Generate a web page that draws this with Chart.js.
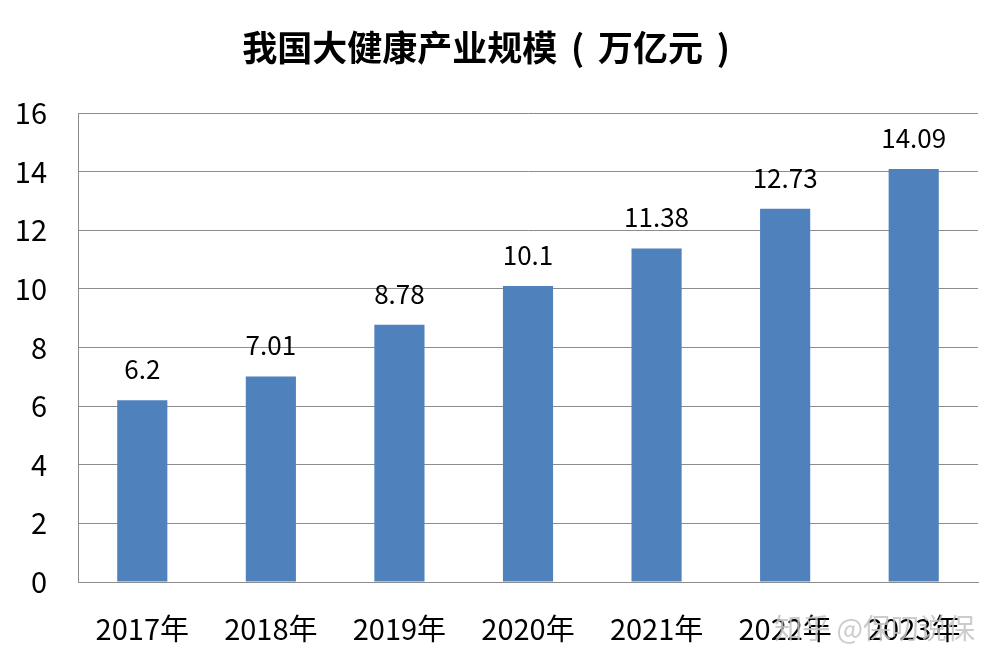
<!DOCTYPE html>
<html>
<head>
<meta charset="utf-8">
<script src="https://cdn.jsdelivr.net/npm/chart.js@4"></script>
<style>
  html, body { margin: 0; padding: 0; background: #fff; }
  #wrap { width: 1000px; height: 667px; }
</style>
</head>
<body>
<div id="wrap"><canvas id="c" width="1000" height="667"></canvas></div>
<script>
const years = ["2017年", "2018年", "2019年", "2020年", "2021年", "2022年", "2023年"];
const scale = [6.2, 7.01, 8.78, 10.1, 11.38, 12.73, 14.09];
const scaleText = ["6.2", "7.01", "8.78", "10.1", "11.38", "12.73", "14.09"];

const font = "'Noto Sans CJK SC', 'Noto Sans', sans-serif";
const blue = "#4F81BD";
const grid = "#8C8C8C";

// value labels above each bar
const barLabels = {
  id: "barLabels",
  afterDatasetsDraw(chart) {
    const c = chart.ctx;
    const meta = chart.getDatasetMeta(0);
    c.save();
    c.font = "26px " + font;
    c.fillStyle = "#000";
    c.textAlign = "center";
    c.textBaseline = "bottom";
    meta.data.forEach((bar, i) => {
      c.fillText(scaleText[i], bar.x, bar.y - 18);
    });
    c.restore();
  },
};

// watermark bottom right
const watermark = {
  id: "watermark",
  afterDraw(chart) {
    const c = chart.ctx;
    c.save();
    c.font = "28px " + font;
    c.fillStyle = "rgba(195,195,195,0.85)";
    c.textAlign = "right";
    c.textBaseline = "middle";
    c.fillText("知乎 @保叨说保", 975, 628);
    c.restore();
  },
};

new Chart(document.getElementById("c").getContext("2d"), {
  type: "bar",
  data: {
    labels: years,
    datasets: [{
      data: scale,
      backgroundColor: blue,
      barPercentage: 0.39,
      categoryPercentage: 1,
    }],
  },
  options: {
    responsive: false,
    animation: false,
    layout: { padding: { left: 0, right: 22, top: 0, bottom: 0 } },
    plugins: {
      legend: { display: false },
      tooltip: { enabled: false },
      title: {
        display: true,
        text: "我国大健康产业规模 \u2006(\u2006 万亿元 \u2006)\u2006",
        color: "#000",
        font: { family: font, size: 35, weight: "bold" },
        padding: { top: 27, bottom: 44 },
      },
    },
    scales: {
      x: {
        grid: { display: false, drawTicks: false },
        border: { color: grid, width: 1 },
        afterFit(s) { s.height = 85; },
        ticks: {
          color: "#000",
          font: { family: font, size: 29 },
          padding: 30,
          maxRotation: 0,
        },
      },
      y: {
        min: 0,
        max: 16,
        grid: { color: grid, drawTicks: false },
        border: { color: grid, width: 1 },
        afterFit(s) { s.width = 78; },
        ticks: {
          stepSize: 2,
          color: "#000",
          font: { family: font, size: 29 },
          padding: 31,
        },
      },
    },
  },
  plugins: [barLabels, watermark],
});
</script>
</body>
</html>
